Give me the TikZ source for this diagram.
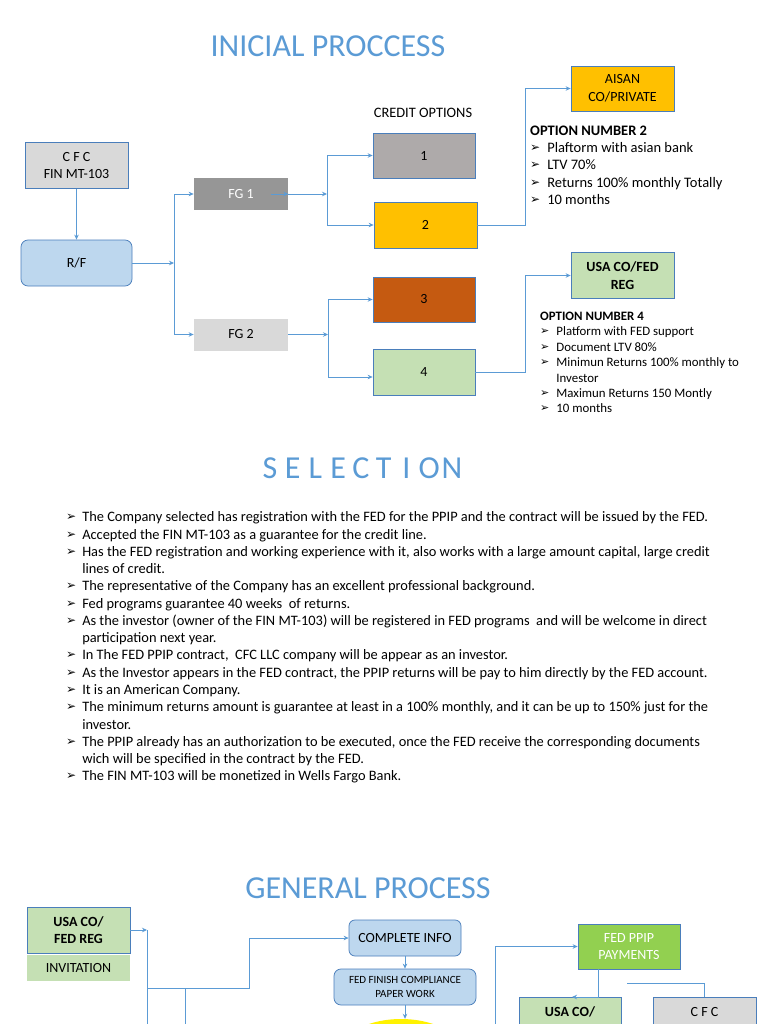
\documentclass[tikz,border=0pt]{standalone}
\usepackage{fontspec}
\setmainfont{Carlito}
\newfontfamily\dejavu{DejaVu Sans}
\usetikzlibrary{arrows.meta,shapes.geometric}
\definecolor{lblue}{HTML}{5B9BD5}
\definecolor{bordblue}{HTML}{4A7EBB}
\definecolor{gray1}{HTML}{D9D9D9}
\definecolor{gray2}{HTML}{AEAAAA}
\definecolor{fggray}{HTML}{969696}
\definecolor{gold}{HTML}{FFC000}
\definecolor{rust}{HTML}{C55A11}
\definecolor{lgreen}{HTML}{C5E0B4}
\definecolor{paleblue}{HTML}{BDD7EE}
\definecolor{brightgreen}{HTML}{92D050}
\newcommand{\mybul}{\raisebox{1pt}{\dejavu\fontsize{12}{12}\selectfont ➢}}
\newcommand{\mysbul}{\raisebox{1pt}{\dejavu\fontsize{11}{11}\selectfont ➢}}
\newcommand{\lsp}[1]{\makebox[22.75pt]{#1}}
\tikzset{
  box/.style={draw=bordblue, line width=0.75pt, minimum width=103pt, minimum height=46pt, inner sep=1pt, align=center, font=\fontsize{14}{17.5}\selectfont},
  rbox/.style={box, rounded corners=7pt},
  fgbox/.style={box, draw=none, minimum width=94pt, minimum height=32pt},
  conn/.style={draw=lblue, line width=0.9pt},
  arr/.style={conn, -{Stealth[length=5pt,width=4.5pt]}},
  title/.style={text=lblue, font=\fontsize{32}{36}\selectfont, inner sep=0pt},
  plain/.style={inner sep=0pt, align=left},
}
\begin{document}
\begin{tikzpicture}[x=1pt,y=-1pt]
\useasboundingbox (0,0) rectangle (768,1024);
\clip (0,0) rectangle (768,1024);
\fill[white] (0,0) rectangle (768,1024);

% titles
\node[title] (t1) at (328,46) {INICIAL PROCCESS};
\node[title] (t2) at (361,468) {\lsp{S}\lsp{E}\lsp{L}\lsp{E}\lsp{C}\lsp{T}\lsp{I}\lsp{O}\lsp{N}};
\node[title] (t3) at (368,888) {GENERAL PROCESS};

% ---------- initial process ----------
\node[box, fill=gray1] (cfc) at (76.5,165.5) {C F C\\FIN MT-103};
\node[rbox, fill=paleblue, minimum width=111pt] (rf) at (76.5,263) {R/F};
\node[fgbox, fill=fggray, text=white] (fg1) at (241,194) {FG 1};
\node[fgbox, fill=gray1] (fg2) at (241,334.5) {FG 2};
\node[plain, font=\fontsize{14.4}{16}\selectfont] (cred) at (423,113) {CREDIT OPTIONS};
\node[box, fill=gray2, minimum width=102pt, minimum height=45pt] (o1) at (424,155.5) {1};
\node[box, fill=gold] (o2) at (425.5,225) {2};
\node[box, fill=rust, minimum width=102pt, minimum height=45pt] (o3) at (424,299.5) {3};
\node[box, fill=lgreen, minimum width=102pt] (o4) at (424,372) {4};
\node[box, fill=gold, minimum height=45pt] (asia) at (622.5,88.5) {AISAN\\CO/PRIVATE};
\node[box, fill=lgreen, font=\fontsize{14}{17.5}\selectfont\bfseries] (usa1) at (622.5,275.5) {USA CO/FED\\REG};

\node[plain, anchor=north west, font=\fontsize{14.5}{17.25}\selectfont] (opt2) at (530,123)
{\begin{tabular}{@{}l@{\hspace{7pt}}l@{}}
\multicolumn{2}{@{}l@{}}{\bfseries OPTION NUMBER 2}\\
\mybul & Plaftorm with asian bank\\
\mybul & LTV 70\%\\
\mybul & Returns 100\% monthly Totally\\
\mybul & 10 months
\end{tabular}};

\node[plain, anchor=north west, font=\fontsize{12.85}{15.4}\selectfont] (opt4) at (540,309.5)
{\begin{tabular}{@{}l@{\hspace{7pt}}l@{}}
\multicolumn{2}{@{}l@{}}{\bfseries OPTION NUMBER 4}\\
\mysbul & Platform with FED support\\
\mysbul & Document LTV 80\%\\
\mysbul & Minimun Returns 100\% monthly to\\
 & Investor\\
\mysbul & Maximun Returns 150 Montly\\
\mysbul & 10 months
\end{tabular}};

\draw[arr] (cfc) -- (rf);
\coordinate (j1) at (174,263);
\draw[arr] (rf.east) -- (j1);
\draw[arr] (j1) |- (fg1.west);
\draw[arr] (j1) |- (fg2.west);

\coordinate (j2) at (327,194);
\draw[arr] ([xshift=30pt]fg1.center) -- (fg1.east);
\draw[arr] (fg1.east) -- (j2);
\draw[arr] (j2) |- (o1.west);
\draw[arr] (j2) |- (o2.west);

\coordinate (j3) at (328,334.5);
\draw[arr] (fg2.east) -- (j3);
\draw[arr] (j3) |- (o3.west);
\draw[arr] (j3) |- ([yshift=-5pt]o4.west);

\coordinate (j4) at (525,225);
\draw[arr] (o2.east) -- (j4) |- (asia.west);
\coordinate (j5) at (525,372);
\draw[arr] (o4.east) -- (j5) |- (usa1.west);

% ---------- selection ----------
\node[plain, anchor=north west, font=\fontsize{14.4}{17.27}\selectfont] (sel) at (66,509.5)
{\begin{tabular}{@{}l@{\hspace{6pt}}l@{}}
\mybul & The Company selected has registration with the FED for the PPIP and the contract will be issued by the FED.\\
\mybul & Accepted the FIN MT-103 as a guarantee for the credit line.\\
\mybul & Has the FED registration and working experience with it, also works with a large amount capital, large credit\\
 & lines of credit.\\
\mybul & The representative of the Company has an excellent professional background.\\
\mybul & Fed programs guarantee 40 weeks\ \ of returns.\\
\mybul & As the investor (owner of the FIN MT-103) will be registered in FED programs\ \ and will be welcome in direct\\
 & participation next year.\\
\mybul & In The FED PPIP contract,\ \ CFC LLC company will be appear as an investor.\\
\mybul & As the Investor appears in the FED contract, the PPIP returns will be pay to him directly by the FED account.\\
\mybul & It is an American Company.\\
\mybul & The minimum returns amount is guarantee at least in a 100\% monthly, and it can be up to 150\% just for the\\
 & investor.\\
\mybul & The PPIP already has an authorization to be executed, once the FED receive the corresponding documents\\
 & wich will be specified in the contract by the FED.\\
\mybul & The FIN MT-103 will be monetized in Wells Fargo Bank.
\end{tabular}};

% ---------- general process ----------
\node[box, fill=lgreen, font=\fontsize{14}{17.5}\selectfont\bfseries] (usa2) at (78.5,930) {USA CO/\\FED REG};
\node[box, fill=lgreen, draw=none, minimum height=26pt] (inv) at (78.5,968) {INVITATION};
\node[rbox, fill=paleblue, minimum width=112pt, minimum height=36pt, rounded corners=6pt] (ci) at (405,938) {COMPLETE INFO};
\node[rbox, fill=paleblue, minimum width=142pt, minimum height=36pt, font=\fontsize{11}{14.5}\selectfont] (ff) at (405,987) {FED FINISH COMPLIANCE\\PAPER WORK};
\node[ellipse, fill=yellow, minimum width=140pt, minimum height=90pt] (ye) at (401,1064) {};
\node[box, fill=brightgreen, text=white, minimum width=102pt, minimum height=45pt] (fp) at (629,946.5) {FED PPIP\\PAYMENTS};
\node[box, fill=lgreen, minimum width=102pt] (usa3) at (570,1020) {};
\node[font=\fontsize{14}{17.5}\selectfont\bfseries, inner sep=0pt] (usa3t) at (570,1012) {USA CO/};
\node[box, fill=gray1] (cfc2) at (704.5,1020) {};
\node[font=\fontsize{14}{17.5}\selectfont, inner sep=0pt] (cfc2t) at (704.5,1012) {C F C};

\coordinate (k1) at (147,930);
\coordinate (k1e) at (147,1030);
\draw[arr] (usa2.east) -- (k1);
\draw[conn] (k1) -- (k1e);
\coordinate (k2) at (147,988);
\coordinate (k3) at (249,988);
\draw[arr] (k2) -- (k3) |- (ci.west);
\coordinate (k4) at (185,988);
\coordinate (k4e) at (185,1030);
\draw[conn] (k4) -- (k4e);
\draw[arr] (ci) -- (ff);
\draw[arr] (ff.south) -- (ff.south |- ye.north);
\coordinate (m1) at (495,1030);
\draw[arr] (m1) |- (fp.west);
\coordinate (m3) at (572,997);
\draw[arr] ([xshift=-31pt]fp.south) |- (m3);
\coordinate (m4) at (627,983);
\draw[conn] (m4) -| (cfc2.north);
\end{tikzpicture}
\end{document}
